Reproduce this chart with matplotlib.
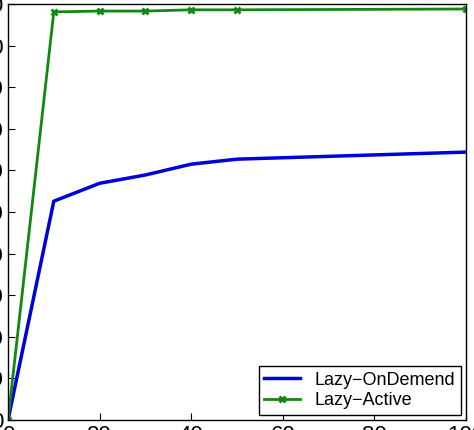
import matplotlib.pyplot as plt

plt.rcParams['font.family'] = ['Liberation Sans', 'DejaVu Sans']

# data
x_vals = [0, 10, 20, 30, 40, 50, 100]
on_demand = [0, 52.6, 56.9, 58.9, 61.5, 62.7, 64.4]
active = [0, 98.1, 98.3, 98.3, 98.6, 98.6, 98.8]

fig = plt.figure(figsize=(4.74, 4.30), dpi=100)
ax = fig.add_axes([8 / 474, 10 / 430, 458 / 474, 416 / 430])

ax.plot(x_vals, on_demand, color='#0000dd', lw=2.5, label='Lazy\u2212OnDemend')
ax.plot(x_vals, active, color='#118811', lw=2, marker='x', ms=4, mew=2,
        label='Lazy\u2212Active')

ax.set_xlim(0, 100)
ax.set_ylim(0, 100)
ax.set_xticks(range(0, 101, 20))
ax.set_yticks(range(0, 101, 10))
ax.tick_params(direction='in', labelsize=16, length=5)
for s in ax.spines.values():
    s.set_linewidth(1)

leg = ax.legend(loc='lower right', fontsize=13, fancybox=False, framealpha=1,
                edgecolor='black', handlelength=2.0, borderaxespad=0.3,
                labelspacing=0.2, borderpad=0.3)
leg.get_frame().set_linewidth(1)

fig.savefig('out.png', dpi=100)
